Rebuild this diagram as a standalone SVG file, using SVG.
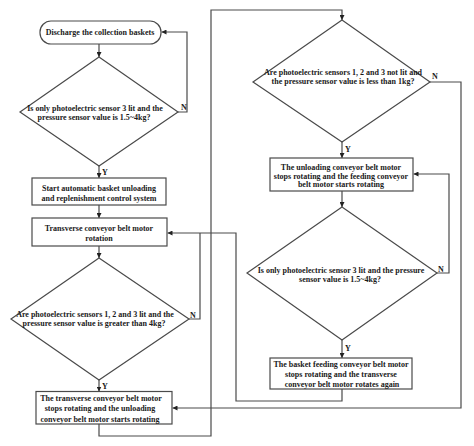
<svg xmlns="http://www.w3.org/2000/svg" width="474" height="446" viewBox="0 0 474 446">
<style>
.s{fill:#fff;stroke:#4a4a4a;stroke-width:1.2}
.t{font-family:"Liberation Serif","Times New Roman",serif;font-weight:bold;font-size:8px;fill:#1a1a1a;text-anchor:middle}
.l{font-family:"Liberation Serif","Times New Roman",serif;font-weight:bold;font-size:8px;fill:#1a1a1a}
.c{fill:none;stroke:#4a4a4a;stroke-width:1.2}
</style>
<defs>
<marker id="a" viewBox="0 0 10 10" refX="10" refY="5" markerWidth="5" markerHeight="5" markerUnits="userSpaceOnUse" orient="auto">
<path d="M0,0 L10,5 L0,10 z" fill="#222"/>
</marker>
</defs>
<rect width="474" height="446" fill="#fff"/>
<g id="connectors">
<path class="c" d="M99,44 V57" marker-end="url(#a)"/>
<path class="c" d="M178,112 H187 V32 H161.5" marker-end="url(#a)"/>
<path class="c" d="M99,166 V178" marker-end="url(#a)"/>
<path class="c" d="M99,205 V218" marker-end="url(#a)"/>
<path class="c" d="M99,246 V258" marker-end="url(#a)"/>
<path class="c" d="M189,319 H200 V233"/>
<path class="c" d="M342,389 V401 H236 V233 H167.5" marker-end="url(#a)"/>
<path class="c" d="M99,380 V391.5" marker-end="url(#a)"/>
<path class="c" d="M99,424 V436 H211 V10 H342 V20" marker-end="url(#a)"/>
<path class="c" d="M430,82 H461 V408 H172.5" marker-end="url(#a)"/>
<path class="c" d="M342,142 V158" marker-end="url(#a)"/>
<path class="c" d="M342,191 V207" marker-end="url(#a)"/>
<path class="c" d="M437,273 H449 V174 H413.5" marker-end="url(#a)"/>
<path class="c" d="M342,340 V358" marker-end="url(#a)"/>
<text class="l" x="181" y="110">N</text>
<text class="l" x="102" y="175">Y</text>
<text class="l" x="190" y="318">N</text>
<text class="l" x="102" y="389">Y</text>
<text class="l" x="432" y="79">N</text>
<text class="l" x="345" y="152">Y</text>
<text class="l" x="438" y="272">N</text>
<text class="l" x="345" y="351">Y</text>
</g>
<g id="n1">
<rect class="s" x="40" y="21" width="121" height="23" rx="11"/>
<text class="t" x="100" y="35">Discharge the collection baskets</text>
</g>
<g id="n2">
<polygon class="s" points="99,57 178,112 99,166 20,112"/>
<text class="t" x="95" y="111">Is only photoelectric sensor 3 lit and the</text>
<text class="t" x="94" y="120">pressure sensor value is 1.5~4kg?</text>
</g>
<g id="n3">
<rect class="s" x="32" y="178" width="134" height="27"/>
<text class="t" x="99" y="191">Start automatic basket unloading</text>
<text class="t" x="99" y="201">and replenishment control system</text>
</g>
<g id="n4">
<rect class="s" x="32" y="218" width="135" height="28"/>
<text class="t" x="99" y="231">Transverse conveyor belt motor</text>
<text class="t" x="99" y="241">rotation</text>
</g>
<g id="n5">
<polygon class="s" points="99,258 189,319 99,380 11,319"/>
<text class="t" x="95" y="317">Are photoelectric sensors 1, 2 and 3 lit and the</text>
<text class="t" x="94" y="326">pressure sensor value is greater than 4kg?</text>
</g>
<g id="n6">
<rect class="s" x="36" y="391.5" width="136" height="32.5"/>
<text class="t" x="101" y="401">The transverse conveyor belt motor</text>
<text class="t" x="100" y="411">stops rotating and the unloading</text>
<text class="t" x="100" y="422">conveyor belt motor starts rotating</text>
</g>
<g id="n7">
<polygon class="s" points="342,20 430,82 342,142 253,82"/>
<text class="t" x="343" y="75">Are photoelectric sensors 1, 2 and 3 not lit and</text>
<text class="t" x="343" y="84">the pressure sensor value is less than 1kg?</text>
</g>
<g id="n8">
<rect class="s" x="270" y="158" width="143" height="33"/>
<text class="t" x="341" y="170">The unloading conveyor belt motor</text>
<text class="t" x="341" y="179">stops rotating and the feeding conveyor</text>
<text class="t" x="341" y="187">belt motor starts rotating</text>
</g>
<g id="n9">
<polygon class="s" points="342,207 437,273 342,340 247,273"/>
<text class="t" x="341" y="273">Is only photoelectric sensor 3 lit and the pressure</text>
<text class="t" x="340" y="282">sensor value is 1.5~4kg?</text>
</g>
<g id="n10">
<rect class="s" x="270" y="358" width="142" height="31"/>
<text class="t" x="341" y="367">The basket feeding conveyor belt motor</text>
<text class="t" x="341" y="377">stops rotating and the transverse</text>
<text class="t" x="342" y="387">conveyor belt motor rotates again</text>
</g>
</svg>
